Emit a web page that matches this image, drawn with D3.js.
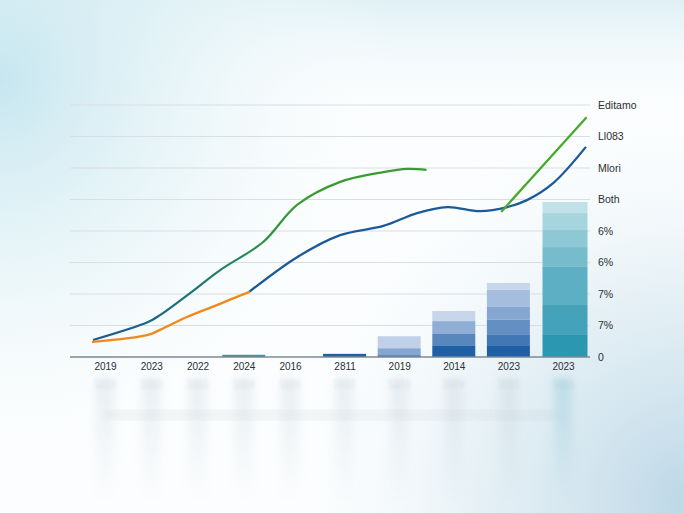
<!DOCTYPE html>
<html><head><meta charset="utf-8">
<script src="https://cdn.jsdelivr.net/npm/d3@7"></script>
<style>html,body{margin:0;padding:0;overflow:hidden;background:#fff}</style>
</head><body>
<svg id="c" width="684" height="513"></svg>
<script>
// ---------- data ----------
const categories = ["2019","2023","2022","2024","2016","2811","2019","2014","2023","2023"];
const barStacks = [[],[],[],[0.07],[],[0.1],[0.06,0.22,0.38],[0.35,0.38,0.41,0.32],[0.35,0.35,0.48,0.41,0.54,0.22],[0.70,0.95,1.21,0.63,0.54,0.54,0.35]];
const tickValues = [0,1,2,3,4,5,6,7,8];
const tickLabels = ["0","7%","7%","6%","6%","Both","Mlori","Ll083","Editamo"];
// lines: [category position, value]
const lineOrange = [[-0.26,0.48],[0.93,0.70],[1.19,0.86],[1.77,1.27],[2.42,1.65],[3.11,2.06]];
const lineGreen = [[-0.26,0.54],[0.93,1.11],[1.19,1.33],[1.84,2.03],[2.49,2.76],[3.42,3.65],[4.13,4.83],[4.92,5.56],[5.71,5.87],[6.15,5.97],[6.50,5.94]];
const lineBlue = [[3.11,2.06],[4.13,3.17],[4.92,3.87],[5.71,4.16],[6.33,4.57],[6.88,4.76],[7.48,4.63],[7.98,4.76],[8.34,4.98],[8.82,5.52],[9.42,6.67]];
const lineGreen2 = [[7.88,4.63],[9.42,7.59]];

// ---------- setup ----------
const W = 684, H = 513;
const svg = d3.select("#c");
const defs = svg.append("defs");

const x = d3.scaleLinear().domain([0, 4, 9]).range([105, 290, 563]);
const y = d3.scaleLinear().domain([0, 8]).range([357, 105]);
const gridX0 = 70, gridX1 = 590;

// background
const rg1 = defs.append("radialGradient").attr("id","bg1").attr("gradientUnits","userSpaceOnUse")
  .attr("cx",0).attr("cy",80).attr("r",400);
rg1.append("stop").attr("offset",0).attr("stop-color","#c6e6ef");
rg1.append("stop").attr("offset",0.55).attr("stop-color","#e6f4f7").attr("stop-opacity",0.6);
rg1.append("stop").attr("offset",1).attr("stop-color","#ffffff").attr("stop-opacity",0);
const rg2 = defs.append("radialGradient").attr("id","bg2").attr("gradientUnits","userSpaceOnUse")
  .attr("cx",690).attr("cy",500).attr("r",420);
rg2.append("stop").attr("offset",0).attr("stop-color","#bcd7e6");
rg2.append("stop").attr("offset",0.5).attr("stop-color","#dcebf2").attr("stop-opacity",0.7);
rg2.append("stop").attr("offset",1).attr("stop-color","#ffffff").attr("stop-opacity",0);
const lg = defs.append("linearGradient").attr("id","bgtop").attr("x1",0).attr("y1",0).attr("x2",0).attr("y2",1);
lg.append("stop").attr("offset",0).attr("stop-color","#dff0f5");
lg.append("stop").attr("offset",0.25).attr("stop-color","#ffffff").attr("stop-opacity",0);
svg.append("rect").attr("width",W).attr("height",H).attr("fill","#fbfdfe");
svg.append("rect").attr("width",W).attr("height",H).attr("fill","url(#bgtop)");
svg.append("rect").attr("width",W).attr("height",H).attr("fill","url(#bg1)");
svg.append("rect").attr("width",W).attr("height",H).attr("fill","url(#bg2)");

// blur filters
defs.append("filter").attr("id","blur").attr("x","-50%").attr("y","-50%").attr("width","200%").attr("height","200%")
  .append("feGaussianBlur").attr("stdDeviation",4);
defs.append("filter").attr("id","blurS").attr("x","-50%").attr("y","-50%").attr("width","200%").attr("height","200%")
  .append("feGaussianBlur").attr("stdDeviation",1.4);

// reflection
const refl = svg.append("g");
const colGrad = defs.append("linearGradient").attr("id","colg").attr("x1",0).attr("y1",0).attr("x2",0).attr("y2",1);
colGrad.append("stop").attr("offset",0).attr("stop-color","#a9b9c4").attr("stop-opacity",0.22);
colGrad.append("stop").attr("offset",1).attr("stop-color","#a9b9c4").attr("stop-opacity",0);
const colGradT = defs.append("linearGradient").attr("id","colgt").attr("x1",0).attr("y1",0).attr("x2",0).attr("y2",1);
colGradT.append("stop").attr("offset",0).attr("stop-color","#6ab7c9").attr("stop-opacity",0.3);
colGradT.append("stop").attr("offset",1).attr("stop-color","#6ab7c9").attr("stop-opacity",0);
refl.selectAll("rect.col").data(categories).join("rect").attr("class","col")
  .attr("x",(d,i)=>x(i)-9).attr("width",18).attr("y",378).attr("height",120)
  .attr("fill",(d,i)=> i===9 ? "url(#colgt)" : "url(#colg)").attr("filter","url(#blur)");
refl.append("rect").attr("x",x(0)).attr("width",x(9)-x(0)).attr("y",412).attr("height",6)
  .attr("fill","#c2cdd4").attr("opacity",0.35).attr("filter","url(#blur)");
refl.selectAll("text").data(categories).join("text")
  .attr("transform",(d,i)=>`translate(${x(i)},${380}) scale(1,-1)`)
  .attr("text-anchor","middle").attr("font-family","Liberation Sans, Arial, sans-serif")
  .attr("font-size",10).attr("fill","#8fa0aa").attr("opacity",0.2).attr("filter","url(#blurS)")
  .text(d=>d);

// gridlines
svg.append("g").selectAll("line").data(tickValues.filter(v=>v>0)).join("line")
  .attr("x1",gridX0).attr("x2",gridX1).attr("y1",d=>y(d)).attr("y2",d=>y(d))
  .attr("stroke","#d9dee3").attr("stroke-width",1.1);

// bars
const tealBars = new Set([3, 9]);
const barW = 43;
const segs = [];
barStacks.forEach((stack, i) => {
  let acc = 0;
  stack.forEach((v, j) => {
    segs.push({i, j, n: stack.length, y0: acc, y1: acc + v});
    acc += v;
  });
});
const blueI = d3.interpolateRgb("#1f5fa6", "#c8d6ec");
const tealI = d3.interpolateRgb("#2b97b1", "#c8e5ea");
svg.append("g").selectAll("rect").data(segs).join("rect")
  .attr("x", d => x(d.i) - barW/2 + (d.i===9 ? 1 : 0))
  .attr("width", d => d.i===9 ? 45 : barW)
  .attr("y", d => y(d.y1))
  .attr("height", d => y(d.y0) - y(d.y1))
  .attr("fill", d => {
    const t = d.n > 1 ? d.j/(d.n-1) : 0;
    if (d.i === 3) return "#3a8fb2";
    return tealBars.has(d.i) ? tealI(t*0.95) : blueI(d.n===3 ? 0.25 + t*0.7 : t);
  });

// baseline
svg.append("line").attr("x1",gridX0).attr("x2",gridX1).attr("y1",y(0)).attr("y2",y(0))
  .attr("stroke","#7d8893").attr("stroke-width",1.4);

// lines
const line = d3.line().x(d=>x(d[0])).y(d=>y(d[1])).curve(d3.curveCatmullRom.alpha(0.5));
const gg = defs.append("linearGradient").attr("id","greenGrad").attr("gradientUnits","userSpaceOnUse")
  .attr("x1",93).attr("y1",0).attr("x2",300).attr("y2",0);
[[0,"#1d5892"],[0.35,"#1c6a86"],[0.7,"#25885a"],[1,"#3a9c30"]].forEach(s=>
  gg.append("stop").attr("offset",s[0]).attr("stop-color",s[1]));
svg.append("path").datum(lineGreen).attr("d",line).attr("fill","none")
  .attr("stroke","url(#greenGrad)").attr("stroke-width",2.2).attr("stroke-linejoin","round");
svg.append("path").datum(lineBlue).attr("d",line).attr("fill","none")
  .attr("stroke","#1b5a98").attr("stroke-width",2.3).attr("stroke-linejoin","round");
svg.append("path").datum(lineOrange).attr("d",line).attr("fill","none")
  .attr("stroke","#ef8a1a").attr("stroke-width",2.4).attr("stroke-linecap","round");
svg.append("path").datum(lineGreen2).attr("d",line).attr("fill","none")
  .attr("stroke","#46ab2a").attr("stroke-width",2.3).attr("stroke-linecap","round");

// axes
const fontFam = "Liberation Sans, Arial, sans-serif";
const ax = svg.append("g").attr("transform",`translate(0,${y(0)})`)
  .call(d3.axisBottom(x).tickValues(d3.range(categories.length)).tickFormat(i=>categories[i]).tickSize(0).tickPadding(6));
ax.select(".domain").remove();
ax.selectAll("text").attr("font-family",fontFam).attr("font-size",10).attr("fill","#2b2f33");

const ay = svg.append("g").attr("transform",`translate(592,0)`)
  .call(d3.axisRight(y).tickValues(tickValues).tickFormat((d,i)=>tickLabels[i]).tickSize(0).tickPadding(6));
ay.select(".domain").remove();
ay.selectAll("text").attr("font-family",fontFam).attr("font-size",10.5).attr("fill","#2b2f33");
</script>
</body></html>
